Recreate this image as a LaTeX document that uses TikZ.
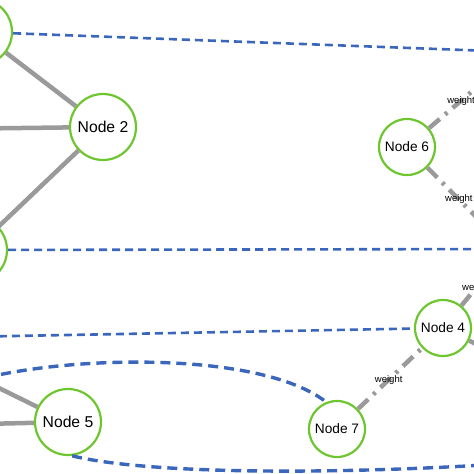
\documentclass[tikz,border=0pt]{standalone}
\usepackage{fontspec}
\setmainfont{Liberation Sans}
\usetikzlibrary{calc}
\definecolor{nodegreen}{HTML}{6EC62E}
\definecolor{linkblue}{HTML}{3A66BC}
\definecolor{edgegray}{HTML}{9A9A9A}

\begin{document}
\begin{tikzpicture}[x=1pt,y=-1pt,
  vertex/.style={draw=nodegreen,line width=2.2pt,circle,fill=white,minimum size=56pt,inner sep=0pt,font=\fontsize{13.7}{16}\selectfont},
  bigvertex/.style={vertex,minimum size=66pt,font=\fontsize{15.7}{18}\selectfont},
  link/.style={draw=edgegray,line width=4.5pt},
  wlink/.style={link,dash pattern=on 14pt off 7pt on 3pt off 7pt},
  cross/.style={draw=linkblue,line width=2.6pt,dash pattern=on 8pt off 5pt},
  crossbend/.style={cross,line width=3.4pt,dash pattern=on 10pt off 6pt},
  wlabel/.style={font=\fontsize{9.5}{11}\selectfont,inner sep=1pt}
]
\useasboundingbox (0,0) rectangle (474,474);
\clip (0,0) rectangle (474,474);
\node[bigvertex] (n1) at (-21,32) {};
\node[bigvertex] (n3) at (-26,250) {};
\node[bigvertex] (n2) at (103,127) {Node 2};
\node[bigvertex] (n5) at (68,422) {Node 5};
\node[vertex] (n6) at (407,147) {Node 6};
\node[vertex] (n4) at (443,328) {Node 4};
\node[vertex] (n7) at (337,429) {Node 7};
\coordinate (w1) at (-60,129);
\coordinate (w2) at (-60,359);
\coordinate (w3) at (-60,425);
\coordinate (w4) at (-40,337);
\coordinate (w5) at (-30,382);
\coordinate (e1) at (518,52);
\coordinate (e2) at (508,249);
\coordinate (e3) at (540,375);
\coordinate (e4) at (530,462);
\draw[link] (n1) -- (n2);
\draw[link] (w1) -- (n2);
\draw[link] (n2) -- (n3);
\draw[link] (w2) -- (n5);
\draw[link] (w3) -- (n5);
\draw[wlink] (n6) -- node[wlabel,pos=0.36] {weight} (e1);
\draw[wlink] (n6) -- node[wlabel,pos=0.39] {weight} (e2);
\draw[wlink] (n7) -- node[wlabel,pos=0.48] {weight} (n4);
\draw[wlink] (n4) -- node[wlabel,pos=0.31] {weight} (e2);
\draw[wlink] (n4) -- (e3);
\draw[cross] (n1) -- (e1);
\draw[cross] (n3) -- (e2);
\draw[cross] (w4) -- (n4);
\draw[crossbend] (w5) .. controls (60,355) and (260,350) .. (n7.112);
\draw[crossbend] (n5.-83) .. controls (150,475) and (350,475) .. (e4);
\end{tikzpicture}
\end{document}
